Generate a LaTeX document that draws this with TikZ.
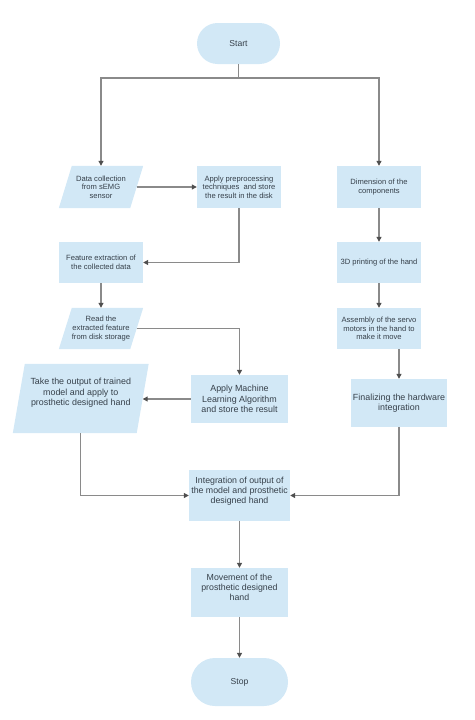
\documentclass[tikz,border=0pt]{standalone}
\usepackage{fontspec}
\setmainfont{Liberation Sans}
\usetikzlibrary{arrows.meta,backgrounds}
\definecolor{boxfill}{HTML}{D2E8F6}
\definecolor{linec}{HTML}{8A8A8A}
\definecolor{tipc}{HTML}{4F4F4F}
\definecolor{txtc}{HTML}{36404A}
\newcommand\parafill[2]{\fill[boxfill] ([xshift=-#2pt]#1.south west) -- ([xshift=-#2pt]#1.south east) -- ([xshift=#2pt]#1.north east) -- ([xshift=#2pt]#1.north west) -- cycle;}
\newcommand\lowpad[1]{\rule[-#1pt]{0pt}{0pt}}
\tikzset{
  base/.style={inner sep=0pt, align=center, text=txtc},
  smallt/.style={font=\fontsize{7.6}{8.7}\selectfont},
  bigt/.style={font=\fontsize{8.9}{10.3}\selectfont},
  midt/.style={font=\fontsize{8.8}{10}\selectfont},
  procbox/.style={base, fill=boxfill},
  parabox/.style={base},
  termbox/.style={base, fill=boxfill, font=\fontsize{8.6}{10}\selectfont},
  conn/.style={draw=linec, line width=1.1pt},
  arr/.style={conn, -{Triangle[length=5pt,width=5pt,color=tipc]}}
}
\begin{document}
\begin{tikzpicture}[x=1pt,y={(0,-1pt)}]
\useasboundingbox (0,0) rectangle (474,720);
% terminals
\node[termbox, minimum width=83pt, minimum height=41pt, rounded corners=20.5pt] (start) at (238.5,43.5) {Start};
\node[termbox, minimum width=97pt, minimum height=48pt, rounded corners=24pt] (stop) at (239.5,682) {Stop};
% row 1
\node[parabox, smallt, minimum width=71pt, minimum height=42pt] (dc) at (101,187) {Data collection\\from sEMG\\sensor};
\node[procbox, smallt, minimum width=84pt, minimum height=42pt] (pre) at (239,187) {Apply preprocessing\\techniques\ \ and store\\the result in the disk};
\node[procbox, smallt, minimum width=84pt, minimum height=42pt] (dim) at (379,187) {Dimension of the\\components};
% row 2
\node[procbox, smallt, minimum width=84pt, minimum height=41pt] (fe) at (101,262.5) {Feature extraction of\\the collected data};
\node[procbox, smallt, minimum width=84pt, minimum height=41pt] (p3d) at (379,262.5) {3D printing of the hand};
% row 3
\node[parabox, smallt, minimum width=71pt, minimum height=41pt] (rd) at (101,328.5) {Read the\\extracted feature\\from disk storage};
\node[procbox, smallt, minimum width=84pt, minimum height=41pt] (asm) at (379,328.5) {Assembly of the servo\\motors in the hand to\\make it move};
% row 4
\node[parabox, bigt, minimum width=123.5pt, minimum height=69pt] (to) at (80.75,398.5) {Take the output of trained\\model and apply to\\prosthetic designed hand\lowpad{13}};
\node[procbox, bigt, minimum width=97pt, minimum height=48pt] (ml) at (239.5,399) {Apply Machine\\Learning Algorithm\\and store the result};
\node[procbox, bigt, minimum width=96pt, minimum height=48pt] (fin) at (399,403) {Finalizing the hardware\\integration};
% lower
\node[procbox, midt, minimum width=101pt, minimum height=51pt] (int) at (239.5,495.5) {Integration of output of\\the model and prosthetic\\designed hand\lowpad{11}};
\node[procbox, midt, minimum width=97pt, minimum height=49pt] (mov) at (239.5,592.5) {Movement of the\\prosthetic designed\\hand\lowpad{11}};
\begin{scope}[on background layer]
\parafill{dc}{6.5}
\parafill{rd}{6.5}
\parafill{to}{6}
\end{scope}
% connectors
\coordinate (br) at (238.5,78);
\draw[conn] (start.south) -- (br);
\draw[arr] (br) -| (dc.north);
\draw[arr] (br) -| (dim.north);
\draw[arr] (dc.east) -- (pre.west);
\draw[arr] (pre.south) |- (fe.east);
\draw[arr] (fe.south) -- (rd.north);
\draw[arr] (rd.east) -| (ml.north);
\draw[arr] (ml.west) -- (ml.west -| to.east);
\draw[arr] (dim.south) -- (p3d.north);
\draw[arr] (p3d.south) -- (asm.north);
\draw[arr] (asm.south -| fin.north) -- (fin.north);
\draw[arr] (to.south) |- (int.west);
\draw[arr] (fin.south) |- (int.east);
\draw[arr] (int.south) -- (mov.north);
\draw[arr] (mov.south) -- (stop.north);
\end{tikzpicture}
\end{document}
